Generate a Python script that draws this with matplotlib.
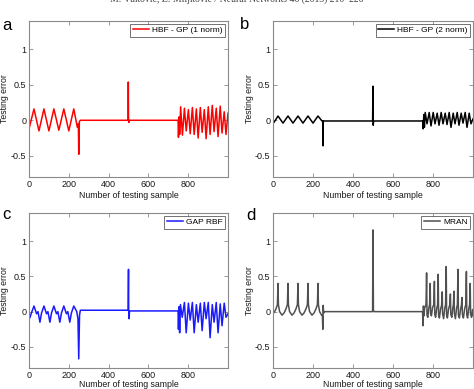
import matplotlib
matplotlib.use("Agg")
import matplotlib.pyplot as plt

plt.rcParams['font.family'] = ['Liberation Sans', 'DejaVu Sans']
plt.rcParams['axes.unicode_minus'] = False

# testing error curves, (sample, error)
pts_a = [(0, -0.12), (25, 0.16), (50, -0.15), (75, 0.16), (100, -0.15), (125, 0.16),
         (150, -0.14), (175, 0.16), (200, -0.15), (225, 0.16), (243, -0.1), (248, -0.05),
         (250, -0.48), (253, -0.02), (258, 0.0), (498, 0.0), (499, 0.54), (500, 0.0),
         (502, -0.03), (504, 0.0), (749, 0.0), (751, -0.24), (755, 0.05), (757, -0.2),
         (762, 0.19), (771, -0.21), (781, 0.17), (790, -0.15), (801, 0.15), (810, -0.19),
         (821, 0.18), (830, -0.2), (841, 0.16), (850, -0.25), (861, 0.18), (870, -0.17),
         (881, 0.15), (890, -0.26), (901, 0.19), (910, -0.2), (921, 0.21), (930, -0.16),
         (941, 0.17), (950, -0.23), (961, 0.2), (970, -0.18), (981, 0.12), (990, -0.2),
         (1000, 0.1)]

pts_b = [(0, -0.03), (5, -0.03), (25, 0.06), (50, -0.04), (75, 0.06), (100, -0.04),
         (125, 0.06), (150, -0.04), (175, 0.06), (200, -0.04), (225, 0.06), (245, -0.01),
         (249, -0.01), (250, -0.36), (251, -0.01), (498, -0.01), (500, 0.48), (501, -0.07),
         (503, -0.01), (749, -0.01), (751, -0.12), (754, 0.08), (757, -0.1), (761, 0.11),
         (770, -0.05), (781, 0.11), (790, -0.08), (801, 0.11), (810, -0.05), (821, 0.1),
         (830, -0.07), (841, 0.11), (850, -0.05), (861, 0.1), (870, -0.06), (881, 0.11),
         (890, -0.1), (901, 0.1), (910, -0.05), (921, 0.11), (930, -0.07), (941, 0.1),
         (950, -0.04), (961, 0.11), (970, -0.1), (981, 0.1), (990, -0.05), (1000, 0.02)]

pts_c = [(0, -0.05), (4, -0.09), (12, -0.02), (25, 0.08), (38, -0.03), (45, 0.0),
         (55, -0.15), (63, -0.02), (75, 0.08), (88, -0.03), (95, 0.0), (105, -0.15),
         (113, -0.02), (125, 0.08), (138, -0.03), (145, 0.0), (155, -0.15), (163, -0.02),
         (175, 0.08), (188, -0.03), (195, 0.0), (205, -0.15), (213, -0.02), (225, 0.08),
         (240, 0.0), (246, -0.1), (250, -0.67), (254, -0.05), (258, 0.02), (498, 0.02),
         (500, 0.6), (501, 0.0), (503, -0.1), (505, 0.01), (749, 0.01), (751, -0.25),
         (754, 0.07), (757, -0.3), (761, 0.1), (770, -0.08), (781, 0.13), (790, -0.3),
         (801, 0.12), (810, -0.12), (821, 0.13), (830, -0.3), (841, 0.1), (850, -0.15),
         (861, 0.12), (870, -0.27), (881, 0.13), (890, -0.1), (901, 0.13), (910, -0.37),
         (921, 0.1), (930, -0.15), (941, 0.13), (950, -0.3), (961, 0.11), (970, -0.2),
         (981, 0.12), (990, -0.08), (1000, -0.03)]

pts_d = [(0, -0.03), (8, 0.0), (15, 0.04), (22, 0.1), (25, 0.4), (27, 0.1), (33, 0.0),
         (45, -0.05), (55, -0.02), (65, 0.04), (72, 0.1), (75, 0.4), (77, 0.1), (83, 0.0),
         (95, -0.05), (105, -0.02), (115, 0.04), (122, 0.1), (125, 0.4), (127, 0.1),
         (133, 0.0), (145, -0.05), (155, -0.02), (165, 0.04), (172, 0.1), (175, 0.4),
         (177, 0.1), (183, 0.0), (195, -0.05), (205, -0.02), (215, 0.04), (222, 0.1),
         (225, 0.4), (227, 0.1), (233, 0.0), (243, -0.05), (247, -0.05), (249, -0.25),
         (251, 0.09), (253, -0.02), (258, 0.0), (498, 0.0), (500, 1.16), (502, 0.02),
         (505, 0.0), (748, 0.0), (750, -0.2), (752, 0.08), (755, -0.06), (758, 0.05),
         (765, 0.1), (768, 0.55), (770, -0.05), (774, -0.08), (779, 0.05), (783, 0.1),
         (786, 0.4), (788, -0.03), (792, -0.06), (798, 0.06), (804, 0.1), (807, 0.43),
         (809, -0.04), (813, -0.08), (819, 0.05), (823, 0.1), (826, 0.53), (828, -0.05),
         (832, -0.09), (838, 0.04), (843, 0.09), (846, 0.28), (848, -0.03), (853, -0.1),
         (859, 0.05), (863, 0.1), (866, 0.64), (868, -0.05), (872, -0.09), (878, 0.04),
         (884, 0.1), (887, 0.25), (889, -0.04), (894, -0.08), (899, 0.05), (902, 0.1),
         (905, 0.29), (907, -0.03), (912, -0.1), (918, 0.05), (922, 0.1), (925, 0.6),
         (927, -0.05), (932, -0.09), (938, 0.04), (942, 0.09), (945, 0.2), (947, -0.04),
         (952, -0.09), (959, 0.05), (964, 0.1), (967, 0.57), (969, -0.05), (973, -0.09),
         (979, 0.04), (983, 0.1), (986, 0.4), (988, -0.04), (993, -0.08), (998, 0.03),
         (1000, -0.05)]

series = [pts_a, pts_b, pts_c, pts_d]
names = ["HBF - GP (1 norm)", "HBF - GP (2 norm)", "GAP RBF", "MRAN"]
colors = ["#ff0000", "#000000", "#1a1aff", "#505050"]
letters = ["a", "b", "c", "d"]

xticks = [0, 200, 400, 600, 800]
yticks = [-0.5, 0, 0.5, 1]
yticklabels = ["-0.5", "0", "0.5", "1"]

W, H = 474, 389
fig = plt.figure(figsize=(W / 100, H / 100), dpi=100)

# axes boxes in pixels: left, top, right, bottom
boxes = [(29, 21, 228, 177), (273, 21, 473, 177),
         (29, 213, 228, 368), (273, 213, 473, 368)]
label_pos = [(2, 30), (240, 29), (2, 219), (246, 220)]
xlabel_top = [191, 191, 380, 380]

for i in range(4):
    l, t, r, b = boxes[i]
    ax = fig.add_axes([l / W, 1 - b / H, (r - l) / W, (b - t) / H])
    xs = [p[0] for p in series[i]]
    ys = [p[1] for p in series[i]]
    ax.plot(xs, ys, color=colors[i], lw=1.1, label=names[i])
    ax.set_xlim(0, 1000)
    ax.set_ylim(-0.8, 1.4)
    ax.set_xticks(xticks)
    ax.set_yticks(yticks)
    ax.set_yticklabels(yticklabels)
    ax.tick_params(direction='in', length=3, width=0.6, top=True, right=True,
                   labelsize=6.5, colors='#8a8a8a', labelcolor='#1a1a1a', pad=2)
    for s in ax.spines.values():
        s.set_color('#8a8a8a')
        s.set_linewidth(0.8)
    ax.set_xlabel("Number of testing sample", fontsize=6.3, color='#1a1a1a')
    ax.set_ylabel("Testing error", fontsize=6.3, color='#1a1a1a')
    ax.xaxis.set_label_coords(0.5, (b - xlabel_top[i]) / (b - t))
    ax.yaxis.set_label_coords(-19.5 / (r - l), 0.5)
    leg = ax.legend(loc='upper right', fontsize=6, fancybox=False, handlelength=1.9,
                    handletextpad=0.4, borderpad=0.3, borderaxespad=0.35)
    leg.get_frame().set_edgecolor('#333333')
    leg.get_frame().set_linewidth(0.6)
    fig.text(label_pos[i][0] / W, 1 - label_pos[i][1] / H, letters[i],
             fontsize=12, va='baseline', ha='left')

fig.text(0.5, 1 - 2 / H, "M. Vuković, Ž. Miljković / Neural Networks 46 (2013) 210–226",
         fontsize=7, family=['Liberation Serif', 'DejaVu Serif'], ha='center',
         va='baseline', color='#444444')

fig.savefig("out.png", dpi=100)
